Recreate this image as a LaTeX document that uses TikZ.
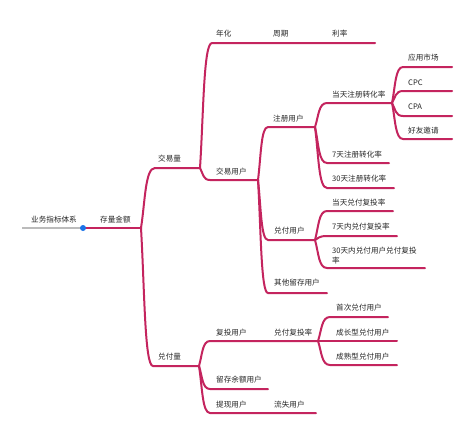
\documentclass[tikz,border=0pt]{standalone}
\usepackage{fontspec}
\newfontfamily\cjk{Noto Sans CJK SC}
\usetikzlibrary{calc}
\definecolor{mm}{HTML}{C4245E}
\definecolor{mmblue}{HTML}{1A73E8}
\definecolor{mmgray}{HTML}{BBBBBB}
\definecolor{mmtext}{HTML}{262626}
\tikzset{
  br/.style={draw=mm, line width=2pt, line cap=round},
  lbl/.style={anchor=west, inner sep=0pt, text=mmtext, font=\cjk\fontsize{7.6}{9.2}\selectfont, align=left},
}
\newcommand{\mmb}[3]{\draw[br] let \p1=(#1), \p2=(#2) in (#1) .. controls ({\x1+0.3*(\x2-\x1)},{\y1+0.45*(\y2-\y1)}) and ({\x1+0.3*(\x2-\x1)},{\y2}) .. (#2) -- (#3);}
\begin{document}
\begin{tikzpicture}[x=1pt,y=-1pt]
\useasboundingbox[fill=white] (0,0) rectangle (474,437);
% coordinates
\coordinate (g0) at (22,228);
\coordinate (root) at (83,228);
\coordinate (J0) at (141,228);
\coordinate (s1) at (155,168); \coordinate (J1) at (200,168);
\coordinate (s2) at (212,43); \coordinate (e2) at (375,43);
\coordinate (s3) at (210,180); \coordinate (J2) at (258,180);
\coordinate (s4) at (268,127); \coordinate (J3) at (315,127);
\coordinate (s5) at (327,103); \coordinate (J4) at (392,103);
\coordinate (s6a) at (403,67); \coordinate (e6a) at (452,67);
\coordinate (s6b) at (403,91); \coordinate (e6b) at (452,91);
\coordinate (s6c) at (403,116); \coordinate (e6c) at (452,116);
\coordinate (s6d) at (403,139); \coordinate (e6d) at (452,139);
\coordinate (s7) at (327,163); \coordinate (e7) at (389,163);
\coordinate (s8) at (327,188); \coordinate (e8) at (394,188);
\coordinate (s9) at (268,240); \coordinate (J5) at (315,240);
\coordinate (s10) at (327,211); \coordinate (e10) at (393,211);
\coordinate (s11) at (327,236); \coordinate (e11) at (397,236);
\coordinate (s12) at (327,268); \coordinate (e12) at (425,268);
\coordinate (s13) at (268,293); \coordinate (e13) at (327,293);
\coordinate (s14) at (153,366); \coordinate (J6) at (199,366);
\coordinate (s15) at (210,341); \coordinate (J7) at (318,341);
\coordinate (s16) at (330,317); \coordinate (e16) at (388,317);
\coordinate (s17) at (330,341); \coordinate (e17) at (397,341);
\coordinate (s18) at (330,365); \coordinate (e18) at (397,365);
\coordinate (s19) at (210,389); \coordinate (e19) at (268,389);
\coordinate (s20) at (210,413); \coordinate (e20) at (316,413);
% lines
\draw[draw=mmgray, line width=2pt] (g0) -- (root);
\draw[br] (root) -- (J0);
\mmb{J0}{s1}{J1}
\mmb{J0}{s14}{J6}
\mmb{J1}{s2}{e2}
\mmb{J1}{s3}{J2}
\mmb{J2}{s4}{J3}
\mmb{J2}{s9}{J5}
\mmb{J2}{s13}{e13}
\mmb{J3}{s5}{J4}
\mmb{J3}{s7}{e7}
\mmb{J3}{s8}{e8}
\mmb{J4}{s6a}{e6a}
\mmb{J4}{s6b}{e6b}
\mmb{J4}{s6c}{e6c}
\mmb{J4}{s6d}{e6d}
\mmb{J5}{s10}{e10}
\mmb{J5}{s11}{e11}
\mmb{J5}{s12}{e12}
\mmb{J6}{s15}{J7}
\mmb{J6}{s19}{e19}
\mmb{J6}{s20}{e20}
\mmb{J7}{s16}{e16}
\draw[br] (J7) -- (s17) -- (e17);
\mmb{J7}{s18}{e18}
\fill[mmblue] (root) circle (3pt);
% labels
\node[lbl] (t0) at (31,220) {业务指标体系};
\node[lbl] (t1) at (100,220) {存量金额};
\node[lbl] (t2) at (158,159) {交易量};
\node[lbl] (t3a) at (216,34) {年化};
\node[lbl] (t3b) at (273,34) {周期};
\node[lbl] (t3c) at (332,34) {利率};
\node[lbl] (t4) at (216,172) {交易用户};
\node[lbl] (t5) at (273,119) {注册用户};
\node[lbl] (t6) at (332,95) {当天注册转化率};
\node[lbl] (t7a) at (408,58) {应用市场};
\node[lbl] (t7b) at (408,83) {CPC};
\node[lbl] (t7c) at (408,107) {CPA};
\node[lbl] (t7d) at (408,131) {好友邀请};
\node[lbl] (t8) at (332,155) {7天注册转化率};
\node[lbl] (t9) at (332,179) {30天注册转化率};
\node[lbl] (t10) at (274,231) {兑付用户};
\node[lbl] (t11) at (332,203) {当天兑付复投率};
\node[lbl] (t12) at (332,227) {7天内兑付复投率};
\node[lbl] (t13) at (332,255.5) {30天内兑付用户兑付复投\\率};
\node[lbl] (t14) at (274,283) {其他留存用户};
\node[lbl] (t15) at (158,357) {兑付量};
\node[lbl] (t16) at (216,333) {复投用户};
\node[lbl] (t17) at (274,333) {兑付复投率};
\node[lbl] (t18) at (336,308) {首次兑付用户};
\node[lbl] (t19) at (336,333) {成长型兑付用户};
\node[lbl] (t20) at (336,357) {成熟型兑付用户};
\node[lbl] (t21) at (216,380) {留存余额用户};
\node[lbl] (t22) at (216,405) {提现用户};
\node[lbl] (t23) at (274,405) {流失用户};
\end{tikzpicture}
\end{document}
